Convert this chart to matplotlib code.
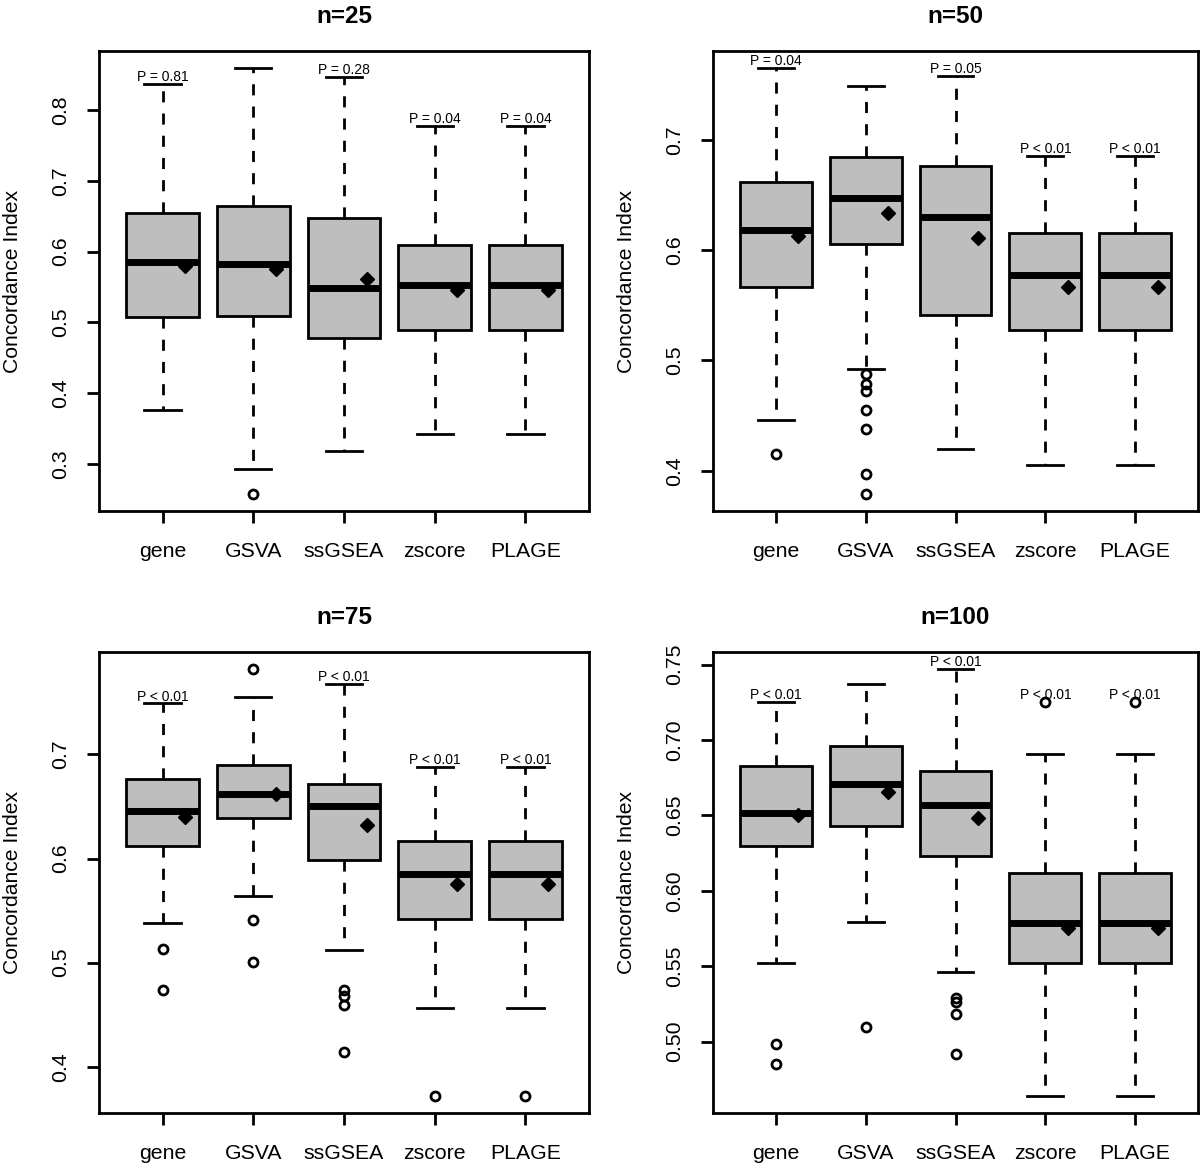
import matplotlib
matplotlib.use("Agg")
import matplotlib.pyplot as plt
import numpy as np
from matplotlib.ticker import MultipleLocator

plt.rcParams['font.family'] = ['Liberation Sans', 'DejaVu Sans']

methods = ["gene", "GSVA", "ssGSEA", "zscore", "PLAGE"]
titles = ["n=25", "n=50", "n=75", "n=100"]

# one row per panel (n=25, 50, 75, 100), one value per method
whis_lo = [[0.377, 0.293, 0.318, 0.342, 0.342],
           [0.446, 0.492, 0.420, 0.405, 0.405],
           [0.538, 0.564, 0.5125, 0.456, 0.456],
           [0.552, 0.579, 0.546, 0.464, 0.464]]
q1 = [[0.507, 0.509, 0.478, 0.490, 0.490],
      [0.567, 0.6055, 0.541, 0.528, 0.528],
      [0.612, 0.639, 0.599, 0.542, 0.542],
      [0.6295, 0.643, 0.623, 0.552, 0.552]]
median = [[0.586, 0.582, 0.549, 0.553, 0.553],
          [0.618, 0.647, 0.630, 0.577, 0.577],
          [0.646, 0.662, 0.650, 0.585, 0.585],
          [0.6515, 0.671, 0.657, 0.5785, 0.5785]]
q3 = [[0.655, 0.664, 0.647, 0.609, 0.609],
      [0.662, 0.684, 0.6765, 0.6155, 0.6155],
      [0.676, 0.690, 0.672, 0.617, 0.617],
      [0.683, 0.696, 0.6795, 0.6115, 0.6115]]
whis_hi = [[0.837, 0.859, 0.846, 0.777, 0.777],
           [0.765, 0.749, 0.758, 0.6855, 0.6855],
           [0.749, 0.7555, 0.768, 0.688, 0.688],
           [0.725, 0.737, 0.747, 0.691, 0.691]]
means = [[0.579, 0.576, 0.561, 0.546, 0.546],
         [0.613, 0.634, 0.611, 0.567, 0.567],
         [0.640, 0.662, 0.632, 0.576, 0.576],
         [0.650, 0.6655, 0.648, 0.5755, 0.5755]]
outliers = [[[], [0.258], [], [], []],
            [[0.415], [0.488, 0.479, 0.472, 0.455, 0.438, 0.397, 0.379], [], [], []],
            [[0.513, 0.474], [0.782, 0.541, 0.501], [0.474, 0.468, 0.459, 0.414], [0.372], [0.372]],
            [[0.4985, 0.485], [0.5095], [0.529, 0.526, 0.518, 0.4915], [0.725], [0.725]]]
pvals = [["P = 0.81", None, "P = 0.28", "P = 0.04", "P = 0.04"],
         ["P = 0.04", None, "P = 0.05", "P < 0.01", "P < 0.01"],
         ["P < 0.01", None, "P < 0.01", "P < 0.01", "P < 0.01"],
         ["P < 0.01", None, "P < 0.01", "P < 0.01", "P < 0.01"]]

tick_steps = [0.1, 0.1, 0.1, 0.05]

W, H = 1200, 1164
fig = plt.figure(figsize=(W / 100, H / 100), dpi=100)
frames = [(99, 51, 589, 511), (713, 51, 1198, 511),
          (99, 652, 589, 1113), (713, 652, 1198, 1113)]

for k, (l, t, r, b) in enumerate(frames):
    ax = fig.add_axes([l / W, 1 - b / H, (r - l) / W, (b - t) / H])
    pos = np.arange(1, len(methods) + 1)
    stats = []
    for i in range(len(methods)):
        stats.append(dict(med=median[k][i], q1=q1[k][i], q3=q3[k][i],
                          whislo=whis_lo[k][i], whishi=whis_hi[k][i],
                          fliers=outliers[k][i]))
    ax.bxp(stats, positions=pos, widths=0.8, capwidths=0.4, patch_artist=True,
           boxprops=dict(facecolor='#bebebe', edgecolor='black', linewidth=2),
           whiskerprops=dict(color='black', linewidth=2, linestyle=(0, (4, 4))),
           capprops=dict(color='black', linewidth=2),
           medianprops=dict(color='black', linewidth=5, solid_capstyle='butt'),
           flierprops=dict(marker='o', markerfacecolor='none', markeredgecolor='black',
                           markersize=6.5, markeredgewidth=2, linestyle='none'))
    ax.plot(pos + 0.25, means[k], linestyle='none', marker='D', color='black',
            markersize=7, zorder=5)

    # p-value text just above the highest point of each box
    for i in range(len(methods)):
        if pvals[k][i] is None:
            continue
        top = max([whis_hi[k][i]] + outliers[k][i])
        ax.annotate(pvals[k][i], (pos[i], top), xytext=(0, 2), textcoords='offset points',
                    ha='center', va='baseline', fontsize=10)

    # R-style limits: 4% beyond the data
    vals = whis_lo[k] + whis_hi[k] + [v for f in outliers[k] for v in f]
    lo, hi = min(vals), max(vals)
    pad = (hi - lo) * 0.04
    ax.set_ylim(lo - pad, hi + pad)
    ax.set_xlim(0.3, 5.7)

    ax.set_xticks(pos, methods)
    ax.yaxis.set_major_locator(MultipleLocator(tick_steps[k]))
    ax.tick_params(axis='both', direction='out', length=8.6, width=2, labelsize=15.3)
    ax.tick_params(axis='x', pad=14)
    ax.tick_params(axis='y', pad=12, labelrotation=90)
    plt.setp(ax.get_yticklabels(), va='center')
    for s in ax.spines.values():
        s.set_linewidth(2)

    ax.set_title(titles[k], fontsize=17.5, fontweight='bold', pad=20)
    ax.set_ylabel('Concordance Index', fontsize=15.2, labelpad=21)

fig.savefig('out.png', dpi=100)
